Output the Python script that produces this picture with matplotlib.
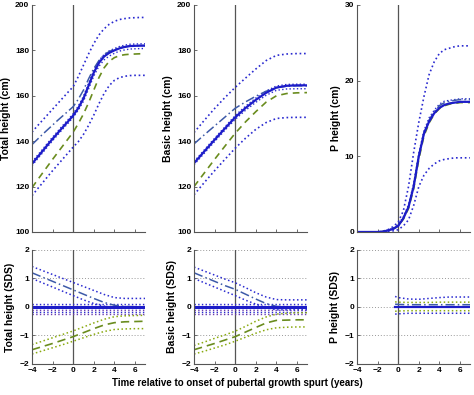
import matplotlib
matplotlib.use('Agg')
import matplotlib.pyplot as plt
import numpy as np

plt.rcParams.update({
    'font.family': ['Liberation Sans', 'DejaVu Sans'],
    'font.weight': 'bold',
    'axes.labelweight': 'bold',
    'font.size': 6,
})

# colours of the series
MEAN_C = '#1c1cc8'
CI_C = '#2a2ad0'
DD_C = '#3d5aa8'
GREEN_C = '#6a8c1e'
GDOT_C = '#8aaa10'
PURP_C = '#6a3cb0'

# ---------- top row: heights (cm) ----------
x_tot = [-4, -3.5, -3, -2.5, -2, -1.5, -1, -0.5, 0, 0.5, 1, 1.5, 2, 2.5, 3, 3.5, 4, 4.5, 5, 5.5, 6, 6.5, 7]
tot_mean = [130, 132.8, 135.5, 138.3, 141, 143.6, 146.2, 148.7, 151.3, 154.6, 158.8, 164.5, 170.2, 174.5, 177.3, 178.9, 180, 180.9, 181.5, 181.9, 182, 182.1, 182.1]
tot_dd = [138.5, 140.7, 142.9, 145, 147.1, 149.2, 151.2, 153.2, 155.2, 158.5, 162.5, 167.5, 172, 175.5, 178, 179.5, 180.5, 181.2, 181.6, 181.9, 182, 182.1, 182.1]
tot_green = [119.5, 122.7, 125.8, 128.9, 132, 135, 138, 141, 144, 147.8, 152, 157, 162.5, 168, 172.3, 175.2, 176.8, 177.7, 178.1, 178.3, 178.4, 178.5, 178.5]
tot_hi = [144, 146.6, 149.1, 151.6, 154.1, 156.6, 159.1, 161.6, 164, 168.5, 173.5, 178.5, 183, 186.8, 189.5, 191.5, 192.8, 193.6, 194, 194.3, 194.4, 194.5, 194.5]
tot_lo = [116, 118.8, 121.5, 124.3, 127, 129.6, 132.2, 134.8, 137.4, 139.8, 143, 147, 151.5, 156.5, 161, 164.5, 166.8, 168, 168.6, 168.9, 169, 169, 169]
tot_nhi = [130.8, 133.6, 136.3, 139.1, 141.8, 144.4, 147, 149.5, 152.1, 155.5, 159.8, 165.6, 171.2, 175.5, 178.2, 179.8, 180.8, 181.7, 182.3, 182.7, 182.8, 182.9, 182.9]
tot_nlo = [129.2, 132, 134.7, 137.5, 140.2, 142.8, 145.4, 147.9, 150.5, 153.7, 157.6, 163.1, 168.7, 173, 175.8, 177.5, 178.7, 179.7, 180.2, 180.6, 180.7, 180.8, 180.8]

x_bas = [-4, -3, -2, -1, 0, 1, 2, 3, 4, 5, 6, 7]
bas_mean = [130.3, 135.5, 140.6, 145.6, 150.5, 154.6, 158.2, 161.3, 163.6, 164.4, 164.6, 164.6]
bas_dd = [138.8, 142.8, 146.7, 150.6, 154.5, 157.3, 159.8, 162, 163.6, 164.2, 164.4, 164.4]
bas_green = [120, 126, 132, 137.8, 143.5, 148.5, 153, 157.2, 160, 161, 161.3, 161.4]
bas_hi = [143.8, 149.2, 154.4, 159.2, 163.7, 167.8, 171.8, 175.5, 177.8, 178.4, 178.6, 178.6]
bas_lo = [116.4, 121.8, 127, 132, 136.9, 141.3, 145.2, 148.2, 150, 150.4, 150.5, 150.5]
bas_nhi = [131, 136.2, 141.3, 146.3, 151.3, 155.4, 159, 162.1, 164.3, 165, 165.1, 165.1]
bas_nlo = [129.6, 134.7, 139.8, 144.8, 149.6, 153.6, 157.1, 160.2, 162.4, 163, 163.1, 163.1]

x_p = x_tot
p_mean = [0, 0, 0, 0, 0, 0.05, 0.2, 0.4, 0.8, 1.8, 3.3, 6, 10, 13, 14.6, 15.7, 16.4, 16.8, 17, 17.1, 17.2, 17.2, 17.2]
p_dd = [0, 0, 0, 0, 0, 0.05, 0.2, 0.4, 0.9, 1.9, 3.4, 6.1, 10.1, 13.1, 14.8, 15.9, 16.7, 17.1, 17.3, 17.4, 17.5, 17.5, 17.5]
p_green = [0, 0, 0, 0, 0, 0.05, 0.2, 0.4, 0.8, 1.7, 3.1, 5.7, 9.6, 12.7, 14.4, 15.6, 16.3, 16.7, 16.9, 17, 17.1, 17.1, 17.1]
p_hi = [0, 0, 0, 0, 0, 0.1, 0.3, 0.7, 1.3, 2.8, 6, 10.5, 14.5, 17.9, 20.8, 22.5, 23.6, 24.1, 24.3, 24.5, 24.6, 24.6, 24.6]
p_lo = [0, 0, 0, 0, 0, 0, 0.05, 0.15, 0.3, 0.8, 1.6, 3.5, 6, 7.5, 8.4, 9, 9.4, 9.6, 9.7, 9.8, 9.8, 9.8, 9.8]
p_nhi = [0, 0, 0, 0, 0, 0.08, 0.25, 0.5, 1.0, 2.0, 3.6, 6.4, 10.4, 13.4, 15.1, 16.1, 16.9, 17.3, 17.4, 17.5, 17.6, 17.6, 17.6]

# ---------- bottom row: SDS ----------
x_sds = [-4, -3, -2, -1, 0, 1, 2, 3, 4, 5, 6, 7]
tot_sds_dd = [1.2, 1.05, 0.9, 0.75, 0.6, 0.45, 0.3, 0.16, 0.06, 0.02, 0.01, 0.01]
tot_sds_hi = [1.42, 1.28, 1.14, 1.0, 0.86, 0.72, 0.58, 0.44, 0.33, 0.3, 0.3, 0.3]
tot_sds_lo = [1.0, 0.85, 0.7, 0.55, 0.4, 0.25, 0.12, 0.03, -0.02, -0.03, -0.03, -0.03]
tot_sds_g = [-1.5, -1.39, -1.28, -1.16, -1.04, -0.9, -0.76, -0.63, -0.55, -0.52, -0.51, -0.5]
tot_sds_ghi = [-1.32, -1.2, -1.08, -0.96, -0.84, -0.7, -0.56, -0.43, -0.34, -0.31, -0.3, -0.29]
tot_sds_glo = [-1.65, -1.54, -1.43, -1.32, -1.2, -1.08, -0.96, -0.86, -0.79, -0.77, -0.76, -0.76]

bas_sds_dd = [1.2, 1.05, 0.9, 0.75, 0.62, 0.45, 0.28, 0.12, 0.02, 0.01, 0.01, 0.01]
bas_sds_hi = [1.4, 1.26, 1.12, 0.98, 0.85, 0.68, 0.5, 0.35, 0.26, 0.25, 0.25, 0.25]
bas_sds_lo = [1.0, 0.85, 0.7, 0.55, 0.4, 0.24, 0.1, -0.02, -0.1, -0.1, -0.1, -0.1]
bas_sds_g = [-1.5, -1.39, -1.28, -1.16, -1.04, -0.88, -0.72, -0.56, -0.47, -0.46, -0.45, -0.45]
bas_sds_ghi = [-1.35, -1.23, -1.1, -0.98, -0.85, -0.68, -0.5, -0.35, -0.25, -0.22, -0.2, -0.2]
bas_sds_glo = [-1.65, -1.55, -1.44, -1.33, -1.2, -1.06, -0.92, -0.8, -0.73, -0.71, -0.7, -0.7]

# flat dotted reference curves near zero (total / basic SDS)
sds_band = [0.1, 0.05, -0.05, -0.1, -0.17, -0.24]

x_psds = [-0.3, 0, 1, 2, 3, 4, 5, 6, 7]
p_sds_hi = [0.37, 0.33, 0.28, 0.27, 0.3, 0.33, 0.35, 0.35, 0.35]
p_sds_lo = [-0.25, -0.24, -0.22, -0.22, -0.22, -0.22, -0.22, -0.22, -0.22]
p_sds_dd = [0.1, 0.09, 0.08, 0.08, 0.08, 0.08, 0.08, 0.08, 0.08]
p_sds_ghi = [0.18, 0.17, 0.16, 0.16, 0.16, 0.17, 0.17, 0.17, 0.17]
p_sds_glo = [-0.15, -0.14, -0.13, -0.13, -0.13, -0.13, -0.13, -0.13, -0.13]
p_sds_mean = [0, 0, 0, 0, 0, 0, 0, 0, 0]

xticks = [-4, -2, 0, 2, 4, 6]

fig = plt.figure(figsize=(4.74, 3.95), dpi=100)
lefts = [0.0675, 0.4093, 0.7532]
width = 0.239
top_axes = [fig.add_axes([l, 0.4127, width, 0.5747]) for l in lefts]
bot_axes = [fig.add_axes([l, 0.0785, width, 0.2886]) for l in lefts]


def style(ax):
    for s in ['top', 'right']:
        ax.spines[s].set_visible(False)
    for s in ['left', 'bottom']:
        ax.spines[s].set_color('#555555')
        ax.spines[s].set_linewidth(0.8)
    ax.tick_params(direction='in', length=2.5, width=0.6, color='#555555', pad=2, labelsize=6)
    ax.set_xlim(-4, 7)
    ax.set_xticks(xticks)
    ax.axvline(0, color='#555555', lw=0.9, zorder=1)
    for lbl in ax.get_xticklabels() + ax.get_yticklabels():
        lbl.set_fontweight('bold')


def height_panel(ax, x, mean, dd, green, hi, lo, near, ylim, yticks, ylabel):
    ax.set_ylim(*ylim)
    ax.set_yticks(yticks)
    style(ax)
    ax.plot(x, hi, ':', color=CI_C, lw=1.2)
    ax.plot(x, lo, ':', color=CI_C, lw=1.2)
    for n in near:
        ax.plot(x, n, ':', color=CI_C, lw=1.0)
    ax.plot(x, green, '--', color=GREEN_C, lw=1.2, dashes=(4, 3))
    ax.plot(x, dd, '-.', color=DD_C, lw=1.1, dashes=(6, 2, 1, 2))
    ax.plot(x, mean, '-', color=MEAN_C, lw=1.6)
    ax.set_xticklabels([])
    ax.set_ylabel(ylabel, fontsize=7.5, fontweight='bold', labelpad=3)


height_panel(top_axes[0], x_tot, tot_mean, tot_dd, tot_green, tot_hi, tot_lo,
             [tot_nhi, tot_nlo], (100, 200), [100, 120, 140, 160, 180, 200], 'Total height (cm)')
height_panel(top_axes[1], x_bas, bas_mean, bas_dd, bas_green, bas_hi, bas_lo,
             [bas_nhi, bas_nlo], (100, 200), [100, 120, 140, 160, 180, 200], 'Basic height (cm)')
height_panel(top_axes[2], x_p, p_mean, p_dd, p_green, p_hi, p_lo,
             [p_nhi], (0, 30), [0, 10, 20, 30], 'P height (cm)')


def sds_panel(ax, x, dd, hi, lo, g, ghi, glo, band, ylabel, mean=None):
    ax.set_ylim(-2, 2)
    ax.set_yticks([-2, -1, 0, 1, 2])
    style(ax)
    for lev in [2, 1, 0, -1]:
        ax.axhline(lev, color='#999999', lw=0.7, ls=(0, (1, 2)), zorder=0)
    for i, lev in enumerate(band):
        ax.plot([x[0], x[-1]], [lev, lev], ':', color=PURP_C if i % 2 else CI_C, lw=1.0)
    ax.plot(x, ghi, ':', color=GDOT_C, lw=1.1)
    ax.plot(x, glo, ':', color=GDOT_C, lw=1.1)
    ax.plot(x, g, '--', color=GREEN_C, lw=1.2, dashes=(5, 3))
    ax.plot(x, hi, ':', color=CI_C, lw=1.1)
    ax.plot(x, lo, ':', color=CI_C, lw=1.1)
    ax.plot(x, dd, '-.', color=DD_C, lw=1.1, dashes=(6, 2, 1, 2))
    if mean is None:
        ax.axhline(0, color=MEAN_C, lw=2.2)
    else:
        ax.plot(x, mean, '-', color=MEAN_C, lw=1.6)
    ax.set_ylabel(ylabel, fontsize=7.5, fontweight='bold', labelpad=3)


sds_panel(bot_axes[0], x_sds, tot_sds_dd, tot_sds_hi, tot_sds_lo, tot_sds_g, tot_sds_ghi, tot_sds_glo,
          sds_band, 'Total height (SDS)')
sds_panel(bot_axes[1], x_sds, bas_sds_dd, bas_sds_hi, bas_sds_lo, bas_sds_g, bas_sds_ghi, bas_sds_glo,
          sds_band, 'Basic height (SDS)')
sds_panel(bot_axes[2], x_psds, p_sds_dd, p_sds_hi, p_sds_lo, p_sds_mean, p_sds_ghi, p_sds_glo,
          [], 'P height (SDS)', mean=p_sds_mean)

fig.text(0.5, 0.018, 'Time relative to onset of pubertal growth spurt (years)',
         ha='center', va='bottom', fontsize=7, fontweight='bold')

fig.savefig('out.png', dpi=100)
